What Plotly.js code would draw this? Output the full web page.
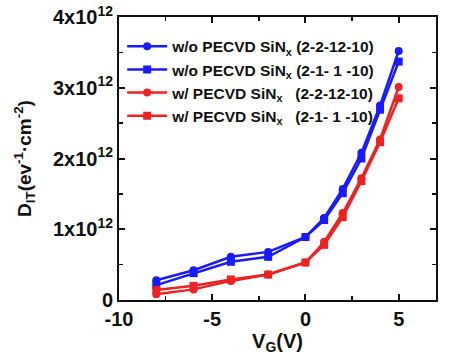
<!DOCTYPE html>
<html><head><meta charset="utf-8">
<script src="https://cdn.plot.ly/plotly-3.0.1.min.js"></script>
<style>html,body{margin:0;padding:0;background:#fff}#c{width:474px;height:357px}</style>
</head><body><div id="c"></div>
<script>
const vg = [-8, -6, -4, -2, 0, 1, 2, 3, 4, 5];
const woCircle = [0.28e12, 0.42e12, 0.61e12, 0.68e12, 0.89e12, 1.16e12, 1.57e12, 2.08e12, 2.75e12, 3.52e12];
const woSquare = [0.21e12, 0.38e12, 0.54e12, 0.61e12, 0.89e12, 1.13e12, 1.51e12, 2.00e12, 2.69e12, 3.37e12];
const wCircle  = [0.08e12, 0.15e12, 0.27e12, 0.36e12, 0.53e12, 0.82e12, 1.23e12, 1.72e12, 2.27e12, 3.01e12];
const wSquare  = [0.14e12, 0.20e12, 0.29e12, 0.36e12, 0.53e12, 0.78e12, 1.17e12, 1.68e12, 2.23e12, 2.85e12];
const names = [
  "w/o PECVD SiN<sub>x</sub> (2-2-12-10)",
  "w/o PECVD SiN<sub>x</sub> (2-1- 1 -10)",
  "w/ PECVD SiN<sub>x</sub>\u00a0\u00a0 (2-2-12-10)",
  "w/ PECVD SiN<sub>x</sub>\u00a0\u00a0 (2-1- 1 -10)"
];
const yTicks = [0, 1e12, 2e12, 3e12, 4e12];
const yTickText = ["0", "1x10<sup>12</sup>", "2x10<sup>12</sup>", "3x10<sup>12</sup>", "4x10<sup>12</sup>"];
const xTicks = [-10, -5, 0, 5];

const blue = "#1a1aff", red = "#ee2222";
function tr(y, name, color, sym) {
  return {x: vg, y: y, name: name, type: "scatter", mode: "lines+markers",
    line: {color: color, width: 2.5}, marker: {color: color, symbol: sym, size: 8}};
}
const data = [
  tr(woCircle, names[0], blue, "circle"),
  tr(woSquare, names[1], blue, "square"),
  tr(wCircle, names[2], red, "circle"),
  tr(wSquare, names[3], red, "square")
];
const FAM = "Liberation Sans, Arial, sans-serif";
const fnt = {family: FAM, size: 20, color: "#111", weight: "bold"};
const layout = {
  width: 474, height: 357,
  margin: {l: 119, r: 38, t: 17, b: 57},
  paper_bgcolor: "#fff", plot_bgcolor: "#fff",
  font: fnt,
  showlegend: true,
  legend: {x: 0.01, y: 0.955, xanchor: "left", yanchor: "top", bgcolor: "rgba(0,0,0,0)",
    font: {family: FAM, size: 15.5, color: "#111", weight: "bold"},
    tracegroupgap: 0, itemwidth: 40},
  xaxis: {range: [-10, 7], tickvals: xTicks, ticktext: xTicks.map(String),
    showgrid: false, zeroline: false, showline: true, linecolor: "#111", linewidth: 2,
    mirror: "ticks", ticks: "inside", ticklen: 6, tickwidth: 2, tickcolor: "#111",
    minor: {ticks: "inside", ticklen: 4, tickwidth: 1.5, dtick: 2.5, tick0: 0, tickcolor: "#111"},
    automargin: true,
    title: {text: "V<sub>G</sub>(V)", font: {family: FAM, size: 20, color: "#111", weight: "bold"}, standoff: 0},
    tickfont: fnt},
  yaxis: {range: [0, 4e12], tickvals: yTicks, ticktext: yTickText,
    showgrid: false, zeroline: false, showline: true, linecolor: "#111", linewidth: 2,
    mirror: "ticks", ticks: "inside", ticklen: 6, tickwidth: 2, tickcolor: "#111",
    minor: {ticks: "inside", ticklen: 4, tickwidth: 1.5, dtick: 0.5e12, tick0: 0, tickcolor: "#111"},
    automargin: false,
    title: {text: "D<sub>IT</sub>(ev<sup>-1</sup>·cm<sup>-2</sup>)", font: {family: FAM, size: 19, color: "#111", weight: "bold"}, standoff: 16},
    tickfont: fnt}
};
Plotly.newPlot("c", data, layout, {displayModeBar: false, staticPlot: true});
</script></body></html>
